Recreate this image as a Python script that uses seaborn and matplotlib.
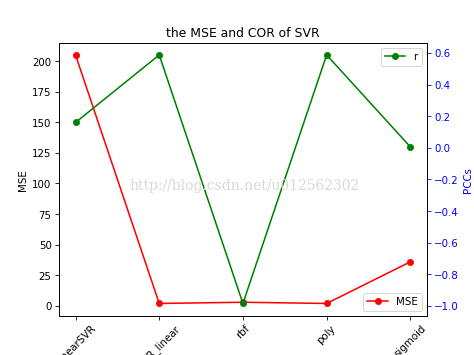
import matplotlib
matplotlib.use("Agg")
import matplotlib.pyplot as plt
import seaborn as sns
import pandas as pd

models = ["LinearSVR", "SVR_linear", "rbf", "poly", "sigmoid"]
mse = [205.0, 2.0, 3.0, 2.0, 36.0]
pccs = [0.16, 0.587, -0.984, 0.587, 0.006]

df = pd.DataFrame({"model": models, "MSE": mse, "r": pccs})

# original was a 640x480 figure, shown at 474x355
fig = plt.figure(figsize=(6.4, 4.8), dpi=474 / 6.4)
ax = fig.add_axes([0.124, 0.110, 0.777, 0.769])
sns.lineplot(data=df, x="model", y="MSE", marker="o", color="red",
             markeredgecolor="red", markersize=6, label="MSE", ax=ax, sort=False)
ax.set_xlabel("")
ax.set_ylabel("MSE")
ax.legend(loc="lower right")
plt.setp(ax.get_xticklabels(), rotation=45, ha="center")

ax2 = ax.twinx()
sns.lineplot(data=df, x="model", y="r", marker="o", color="green",
             markeredgecolor="green", markersize=6, label="r", ax=ax2, sort=False)
ax2.set_ylabel("PCCs", color="blue")
ax2.tick_params(axis="y", colors="blue")
ax2.legend(loc="upper right")

ax.set_title("the MSE and COR of SVR")
# blog watermark
fig.text(0.515, 0.477, "http://blog.csdn.net/u012562302", family="DejaVu Serif",
         fontsize=13.5, color="#d8d8d8", ha="center", va="center")

fig.savefig("out.png", dpi=474 / 6.4)
